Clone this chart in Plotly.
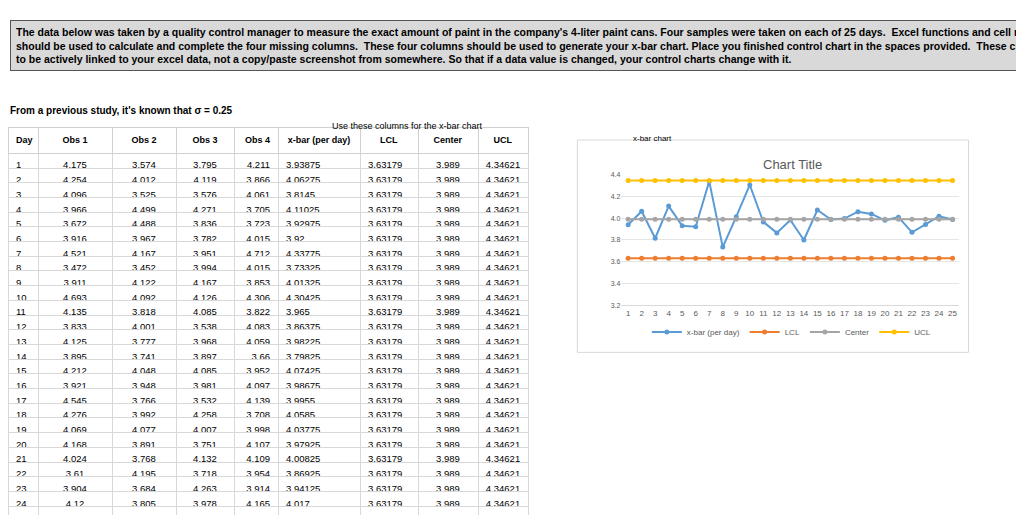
import plotly.graph_objects as go

days = list(range(1, 26))
obs1 = [4.175, 4.254, 4.096, 3.966, 3.672, 3.916, 4.521, 3.472, 3.911, 4.693, 4.135, 3.833, 4.125,
        3.895, 4.212, 3.921, 4.545, 4.276, 4.069, 4.168, 4.024, 3.61, 3.904, 4.12, 4.104]
obs2 = [3.574, 4.012, 3.525, 4.499, 4.488, 3.967, 4.167, 3.452, 4.122, 4.092, 3.818, 4.001, 3.777,
        3.741, 4.048, 3.948, 3.766, 3.992, 4.077, 3.891, 3.768, 4.195, 3.684, 3.805, 4.107]
obs3 = [3.795, 4.119, 3.576, 4.271, 3.836, 3.782, 3.951, 3.994, 4.167, 4.126, 4.085, 3.538, 3.968,
        3.897, 4.085, 3.981, 3.532, 4.258, 4.007, 3.751, 4.132, 3.718, 4.263, 3.978, 4.236]
obs4 = [4.211, 3.866, 4.061, 3.705, 3.723, 4.015, 4.712, 4.015, 3.853, 4.306, 3.822, 4.083, 4.059,
        3.66, 3.952, 4.097, 4.139, 3.708, 3.998, 4.107, 4.109, 3.954, 3.914, 4.165, 3.505]
xbar = ["3.93875", "4.06275", "3.8145", "4.11025", "3.92975", "3.92", "4.33775", "3.73325", "4.01325",
        "4.30425", "3.965", "3.86375", "3.98225", "3.79825", "4.07425", "3.98675", "3.9955", "4.0585",
        "4.03775", "3.97925", "4.00825", "3.86925", "3.94125", "4.017", "3.988"]
lcl = 3.63179
center = 3.989
ucl = 4.34621
headers = ["Day", "Obs 1", "Obs 2", "Obs 3", "Obs 4", "x-bar (per day)", "LCL", "Center", "UCL"]

intro = ("The data below was taken by a quality control manager to measure the exact amount of paint in the company's 4-liter paint cans. "
         "Four samples were taken on each of 25 days.  Excel functions and cell references<br>"
         "should be used to calculate and complete the four missing columns.  These four columns should be used to generate your x-bar chart. "
         "Place you finished control chart in the spaces provided.  These charts have<br>"
         "to be actively linked to your excel data, not a copy/paste screenshot from somewhere. So that if a data value is changed, your control charts change with it.")

n = len(days)
fig = go.Figure()
fig.add_trace(go.Table(
    domain=dict(x=[0, 0.508], y=[0.0, 0.773]),
    columnwidth=[30, 74, 64, 58, 44, 82, 58, 60, 50],
    header=dict(values=[f"<b>{h}</b>" for h in headers], height=14,
                fill_color="white", line_color="#d0d0d0",
                font=dict(family="Liberation Sans Narrow, Liberation Sans", size=9, color="black"),
                align=["left", "center", "center", "center", "right", "center", "center", "center", "center"]),
    cells=dict(values=[days, obs1, obs2, obs3, obs4, xbar, [f"{lcl}"] * n, [f"{center}"] * n, [f"{ucl}"] * n],
               height=14.7, fill_color="white", line_color="#d8d8d8",
               font=dict(family="Liberation Sans", size=9.5, color="black"),
               align=["left", "center", "center", "center", "right", "left", "left", "center", "center"]),
))

x_common = dict(mode="lines+markers", marker=dict(size=5))
fig.add_trace(go.Scatter(x=days, y=[float(v) for v in xbar], name="x-bar (per day)",
                         line=dict(color="#5b9bd5", width=2), **x_common))
fig.add_trace(go.Scatter(x=days, y=[lcl] * n, name="LCL", line=dict(color="#ed7d31", width=2), **x_common))
fig.add_trace(go.Scatter(x=days, y=[center] * n, name="Center", line=dict(color="#a5a5a5", width=2), **x_common))
fig.add_trace(go.Scatter(x=days, y=[ucl] * n, name="UCL", line=dict(color="#ffc000", width=2), **x_common))

fig.update_layout(
    width=1024, height=515, margin=dict(l=0, r=0, t=0, b=0),
    paper_bgcolor="white", plot_bgcolor="white",
    font=dict(family="Liberation Sans", size=9, color="#595959"),
    xaxis=dict(domain=[0.599, 0.929], range=[0.5, 25.5], tickvals=days, showgrid=False,
               showline=True, linecolor="#d9d9d9", ticks="", tickfont=dict(size=8), fixedrange=True),
    yaxis=dict(domain=[0.423, 0.68], range=[3.2, 4.4], dtick=0.2, tickformat=".1f",
               showgrid=True, gridcolor="#e5e5e5", zeroline=False, tickfont=dict(size=7)),
    legend=dict(orientation="h", x=0.765, xanchor="center", y=0.37, yanchor="middle",
                font=dict(size=8), bgcolor="rgba(0,0,0,0)"),
    shapes=[
        dict(type="rect", xref="paper", yref="paper", x0=0.556, x1=0.938, y0=0.33, y1=0.748,
             line=dict(color="#d9d9d9", width=1)),
    ],
    annotations=[
        dict(text=f"<b>{intro}</b>", xref="paper", yref="paper", x=0.002, y=0.985, xanchor="left", yanchor="top",
             align="left", showarrow=False, bgcolor="#d9d9d9", bordercolor="#555555", borderwidth=1,
             borderpad=5, font=dict(family="Liberation Sans Narrow, Liberation Sans", size=10.5, color="black")),
        dict(text="<b>From a previous study, it's known that σ = 0.25</b>", xref="paper", yref="paper",
             x=0.0, y=0.82, xanchor="left", showarrow=False,
             font=dict(family="Liberation Sans", size=10, color="black")),
        dict(text="Use these columns for the x-bar chart", xref="paper", yref="paper",
             x=0.39, y=0.79, xanchor="center", showarrow=False,
             font=dict(family="Liberation Sans", size=9, color="black")),
        dict(text="x-bar chart", xref="paper", yref="paper", x=0.608, y=0.763, xanchor="left",
             showarrow=False, font=dict(family="Liberation Sans", size=8, color="black")),
        dict(text="Chart Title", xref="paper", yref="paper", x=0.766, y=0.718, xanchor="center",
             showarrow=False, font=dict(family="Liberation Sans", size=13, color="#595959")),
    ],
)

fig.write_html("out.html")
